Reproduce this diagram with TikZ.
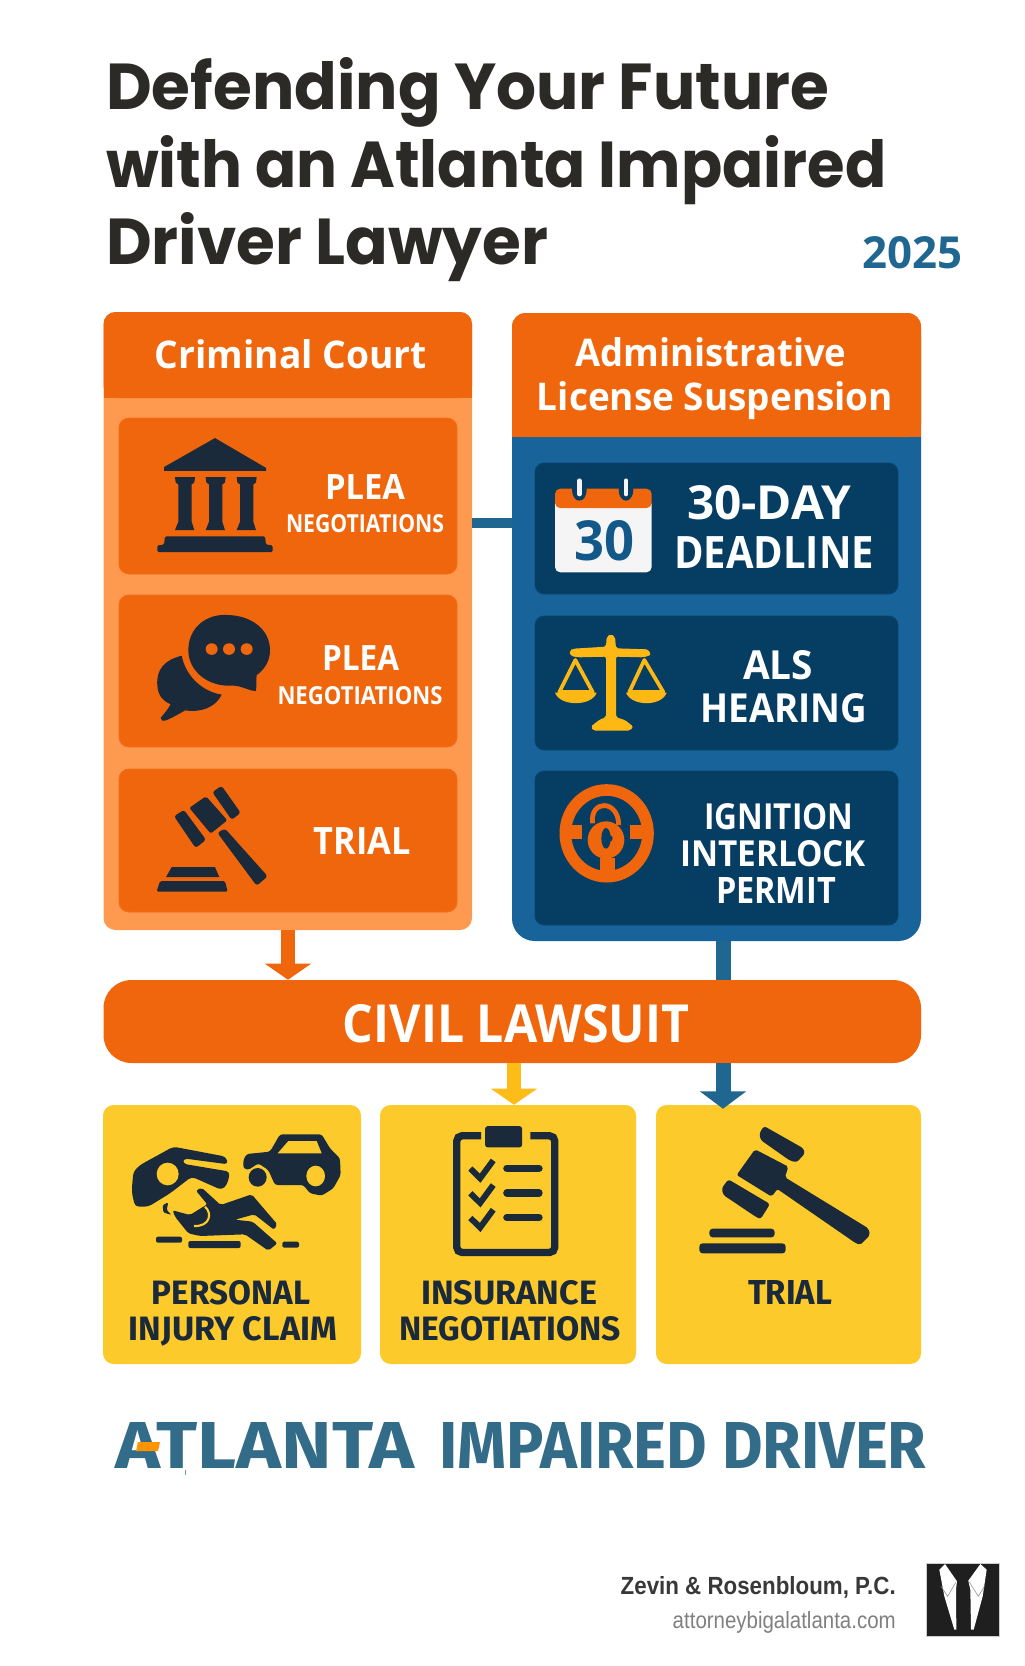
\documentclass[tikz,border=0pt]{standalone}
\usepackage{fontspec}
\usepackage{graphicx}
\setmainfont{Open Sans}
\newfontfamily\titlef{Poppins}
\newfontfamily\firaf{Fira Sans}
\newfontfamily\footf{Liberation Sans}
\usetikzlibrary{fit,arrows.meta}
\definecolor{ora}{HTML}{F0660C}
\definecolor{lora}{HTML}{FE9A50}
\definecolor{blu}{HTML}{17639A}
\definecolor{dblu}{HTML}{063D63}
\definecolor{ico}{HTML}{1B2A3A}
\definecolor{yel}{HTML}{FDCA2C}
\definecolor{gold}{HTML}{FDB813}
\definecolor{conb}{HTML}{1F6690}
\definecolor{ttl}{HTML}{2B2A26}
\definecolor{brand}{HTML}{336C88}
\newcommand{\tx}[3]{\resizebox{\dimexpr#1pt*3/4\relax}{\dimexpr#2pt*3/4\relax}{#3}}
\newcommand{\boxn}[6]{\node[fit={(#2,#3)(#4,#5)},inner sep=0pt,#6] (#1) {};}
\tikzset{
  lbl/.style={anchor=base,inner sep=0pt,text=white,font=\bfseries\fontsize{20}{20}\selectfont},
  ttlb/.style={anchor=base west,inner sep=0pt,text=ttl,font=\titlef\bfseries\fontsize{40}{40}\selectfont},
  item/.style={fill=ora,draw=ora!85!lora,line width=.7pt,rounded corners=7.5pt},
  ditem/.style={fill=dblu,draw=dblu!80!blu,line width=.7pt,rounded corners=7pt},
  ybox/.style={fill=yel,rounded corners=8pt},
  ylbl/.style={anchor=base,inner sep=0pt,text=ico,font=\firaf\bfseries\fontsize{20}{20}\selectfont},
  brandt/.style={anchor=base west,inner sep=0pt,text=brand,font=\firaf\bfseries\fontsize{20}{20}\selectfont},
  flow/.style={line width=#1*.75pt},
}
\begin{document}
\begin{tikzpicture}[x=.75pt,y=-.75pt]
\useasboundingbox[fill=white] (0,0) rectangle (1024,1666);
% title
\node[ttlb] (t1) at (106,110) {\tx{723}{52}{Defending Your Future}};
\node[ttlb] (t2) at (106,188) {\tx{780}{52}{with an Atlanta Impaired}};
\node[ttlb] (t3) at (106,264) {\tx{442}{52}{Driver Lawyer}};
\node[anchor=base west,inner sep=0pt,text=conb,font=\bfseries\fontsize{20}{20}\selectfont] (yr) at (862,268) {\tx{100}{32}{2025}};

% panels
\boxn{crim}{103.5}{312}{472}{930}{fill=lora,rounded corners=9pt}
\fill[ora,rounded corners=9pt] (103.5,398) -- (103.5,312) -- (472,312) -- (472,398) -- cycle;
\boxn{admin}{512}{313}{921}{941}{fill=blu,rounded corners=17pt}
\fill[ora,rounded corners=10pt] (512,437) -- (512,313) -- (921,313) -- (921,437) -- cycle;
\fill[ora] (512,424) rectangle (921,437);
\fill[ora] (103.5,388) rectangle (472,398);
\node[lbl] (ch) at (291,368) {\tx{272}{29}{Criminal Court}};
\node[lbl] (ah1) at (711,366) {\tx{271}{29}{Administrative}};
\node[lbl] (ah2) at (715,410.5) {\tx{356}{29}{License Suspension}};

% left items
\boxn{c1}{119}{418}{457}{574}{item}
\boxn{c2}{119}{595}{457}{747}{item}
\boxn{c3}{119}{769}{457}{912}{item}
\node[lbl] (c1a) at (365,499) {\tx{80}{25}{PLEA}};
\node[lbl] (c1b) at (365,532) {\tx{158}{18}{NEGOTIATIONS}};
\node[lbl] (c2a) at (360.5,670) {\tx{77}{25}{PLEA}};
\node[lbl] (c2b) at (360,704) {\tx{165}{18}{NEGOTIATIONS}};
\node[lbl] (c3a) at (362,854) {\tx{97}{27}{TRIAL}};

% right items
\boxn{a1}{535}{463}{898}{594}{ditem}
\boxn{a2}{535}{616}{898}{750}{ditem}
\boxn{a3}{535}{771}{898}{925}{ditem}
\node[lbl] (a1a) at (769,519) {\tx{164}{34}{30-DAY}};
\node[lbl] (a1b) at (774,568) {\tx{200}{32}{DEADLINE}};
\node[lbl] (a2a) at (778,679) {\tx{70}{29}{ALS}};
\node[lbl] (a2b) at (784,722) {\tx{167}{29}{HEARING}};
\node[lbl] (a3a) at (779,829) {\tx{149}{26}{IGNITION}};
\node[lbl] (a3b) at (773,866) {\tx{186}{26}{INTERLOCK}};
\node[lbl] (a3c) at (776,903) {\tx{120}{26}{PERMIT}};

% courthouse icon
\begin{scope}[shift={(80,300)},xscale=1/3,yscale=1/2.412]
\fill[ico] (405,333) -- (558,405) -- (558,412) -- (252,412) -- (252,403) -- cycle;
\foreach \c in {315,407,500}{
 \fill[ico] (\c-30,427) -- (\c+30,427) -- (\c+28,440) -- (\c+20,445) -- (\c+20,535) -- (\c+28,555) -- (\c-30,555) -- (\c-20,535) -- (\c-20,445) -- (\c-28,440) -- cycle;}
\fill[ico,rounded corners=1pt] (255,570) -- (555,570) -- (558,590) -- (578,592) -- (578,608) -- (232,608) -- (232,592) -- (252,590) -- cycle;
\end{scope}
% chat icon
\begin{scope}[shift={(80,300)},xscale=1/3,yscale=1/2.412]
\fill[ico] (305,858) .. controls (255,868) and (228,890) .. (232,930) .. controls (234,955) and (250,968) .. (272,975) .. controls (262,990) and (250,1000) .. (242,1008) .. controls (245,1020) and (255,1018) .. (315,990) .. controls (360,995) and (405,985) .. (425,952) .. controls (370,945) and (318,910) .. (305,858) -- cycle;
\fill[ico] (447,760) .. controls (380,755) and (325,790) .. (325,845) .. controls (325,895) and (385,935) .. (460,930) .. controls (490,932) and (515,945) .. (528,943) .. controls (530,930) and (528,915) .. (530,905) .. controls (555,890) and (570,870) .. (570,845) .. controls (570,795) and (515,762) .. (447,760) -- cycle;
\foreach \c in {395,447,500}{\fill[ora] (\c,842) ellipse (18 and 14);}
\end{scope}
% small gavel
\begin{scope}[shift={(80,300)},xscale=1/3,yscale=1/2.412]
\fill[ico,rounded corners=1.5pt] (328,1225) -- (378,1197) -- (442,1255) -- (392,1287) -- cycle;
\fill[ico,rounded corners=2pt] (282,1245) -- (312,1230) -- (378,1302) -- (347,1322) -- cycle;
\fill[ico,rounded corners=2pt] (397,1187) -- (425,1172) -- (482,1237) -- (455,1254) -- cycle;
\fill[ico,rounded corners=2pt] (412,1285) -- (435,1275) -- (563,1390) -- (530,1413) -- cycle;
\fill[ico] (275,1368) -- (405,1368) -- (418,1392) -- (258,1392) -- cycle;
\fill[ico,rounded corners=1pt] (240,1402) -- (435,1402) -- (443,1427) -- (230,1427) -- cycle;
\end{scope}
% calendar
\begin{scope}[shift={(500,300)},xscale=1/3,yscale=1/2.412]
\fill[white!92!gray,rounded corners=4pt] (165,480) rectangle (455,657);
\fill[ora,rounded corners=4pt] (165,502) -- (165,455) -- (455,455) -- (455,502) -- cycle;
\foreach \c in {238,378}{
 \fill[dblu] (\c,458) ellipse (22 and 26);
 \draw[white!92!gray,line width=3.5pt,line cap=round] (\c,436) -- (\c,468);}
\node[inner sep=0pt,anchor=base,text=blu!70!dblu,font=\bfseries\fontsize{20}{20}\selectfont] (cal) at (313,628) {\tx{60}{40}{30}};
\end{scope}
% scales
\begin{scope}[shift={(550,630)},scale=1/3]
\fill[gold,rounded corners=1.5pt] (168,50) -- (170,20) -- (183,12) -- (195,20) -- (198,55) -- (295,58) -- (303,75) -- (280,82) -- (198,80) -- (198,262) -- (225,270) -- (250,290) -- (240,302) -- (130,302) -- (122,290) -- (150,268) -- (168,262) -- (168,80) -- (85,82) -- (62,78) -- (58,62) -- (70,56) -- cycle;
\draw[gold,line width=2.8pt,line join=round] (76,90) -- (28,186) -- (128,186) -- cycle;
\draw[gold,line width=2.8pt,line join=round] (283,90) -- (238,186) -- (340,186) -- cycle;
\fill[gold] (15,188) .. controls (30,230) and (125,230) .. (140,188) -- cycle;
\fill[gold] (228,188) .. controls (245,230) and (335,230) .. (350,188) -- cycle;
\end{scope}
% ignition interlock icon
\begin{scope}[shift={(550,780)},scale=1/3]
\draw[ora,line width=8.75pt] (170,160) ellipse (124 and 130);
\fill[ora] (50,135) rectangle (95,177);
\fill[ora] (240,135) rectangle (290,177);
\fill[ora] (150,235) rectangle (195,285);
\fill[ora] (168,180) ellipse (55 and 56);
\fill[dblu] (168,175) ellipse (14 and 31);
\fill[dblu] (178,175) circle (10);
\draw[ora,line width=3.6pt] (128,130) .. controls (118,58) and (206,58) .. (206,135);
\end{scope}

% connectors
\coordinate (hc) at (0,523);
\coordinate (lc) at (288,0);
\coordinate (mc) at (514,0);
\coordinate (rc) at (723,0);
\draw[conb,flow=10] (crim.east |- hc) -- (admin.west |- hc);

% bottom boxes
\boxn{b1}{103}{1105}{361}{1364}{ybox}
\boxn{b2}{380}{1105}{636}{1364}{ybox}
\boxn{b3}{656}{1105}{921}{1364}{ybox}
\boxn{civil}{103.5}{980}{921}{1063}{fill=ora,rounded corners=21pt}
\draw[ora,flow=14,-{Triangle[length=12pt,width=34pt]}] (lc |- crim.south) -- (lc |- civil.north);
\draw[gold!80!yel,flow=14,-{Triangle[length=12pt,width=34pt]}] (mc |- civil.south) -- (mc |- b2.north);
\draw[conb,flow=15] (rc |- admin.south) -- (rc |- civil.north);
\draw[conb,flow=15,shorten >=-3pt,-{Triangle[length=13pt,width=34pt]}] (rc |- civil.south) -- (rc |- b3.north);
\node[lbl] (cl) at (516,1042) {\tx{346}{38}{CIVIL LAWSUIT}};

% crash icon
\begin{scope}[shift={(120,1125)},scale=1/3]
\fill[ico,rounded corners=2pt] (370,105) -- (380,87) -- (450,80) -- (480,28) -- (605,28) -- (630,70) -- (660,100) -- (662,150) -- (640,190) -- (605,212) -- (570,205) -- (550,180) -- (465,180) -- (445,135) -- (415,115) -- (385,135) -- (370,130) -- cycle;
\fill[yel] (473,85) -- (505,48) -- (590,48) -- (605,85) -- cycle;
\fill[yel] (587,153) ellipse (28 and 31);
\fill[ico] (413,157) ellipse (27 and 28);
\fill[ico,rounded corners=3pt] (35,200) -- (40,140) -- (60,120) -- (160,65) -- (318,95) -- (325,118) -- (190,100) -- (188,116) -- (330,140) -- (322,178) -- (305,195) -- (215,155) -- (150,205) -- (85,245) -- (45,245) -- cycle;
\fill[yel] (143,147) ellipse (33 and 34);
\fill[ico,rounded corners=1.5pt] (228,197) -- (245,188) -- (302,240) -- (395,208) -- (472,298) -- (462,314) -- (403,268) -- (345,284) -- (398,290) -- (472,355) -- (445,377) -- (375,328) -- (240,333) -- (205,325) -- (165,275) -- (158,256) -- (210,270) -- (250,245) -- (262,238) -- cycle;
\fill[ico,rounded corners=1pt] (130,262) -- (128,240) -- (145,232) -- (140,255) -- (155,270) -- cycle;
\draw[yel,line width=1.6pt] (255,245) .. controls (278,265) and (270,305) .. (222,303);
\fill[ico,rounded corners=1.5pt] (108,335) rectangle (186,353);
\fill[ico,rounded corners=1.5pt] (205,348) rectangle (362,369);
\fill[ico,rounded corners=1.5pt] (487,350) rectangle (537,368);
\end{scope}
% clipboard icon
\begin{scope}[shift={(90,1096)},xscale=1/1.835,yscale=1/2.92]
\draw[ico,line width=5.5pt,rounded corners=4pt] (718,116) -- (673,116) -- (673,457) -- (853,457) -- (853,116) -- (808,116);
\fill[ico,rounded corners=2pt] (725,88) rectangle (793,150);
\foreach \y in {0,72,144}{
 \draw[ico,line width=4.5pt] (698,\y+212) -- (716,\y+240) -- (740,\y+188);
 \draw[ico,line width=5.5pt,line cap=round] (765,\y+211) -- (824,\y+211);}
\end{scope}
% big gavel
\begin{scope}[shift={(690,1120)},scale=1/3]
\fill[ico,rounded corners=2pt] (222,18) -- (340,85) -- (345,100) -- (320,127) -- (300,122) -- (212,60) -- (208,40) -- cycle;
\fill[ico,rounded corners=1.5pt] (195,88) -- (295,140) -- (285,172) -- (535,325) -- (540,345) -- (510,375) -- (495,368) -- (262,207) -- (245,230) -- (140,165) -- cycle;
\fill[ico,rounded corners=2pt] (115,178) -- (240,252) -- (212,297) -- (200,292) -- (100,225) -- (95,205) -- cycle;
\fill[ico,rounded corners=2.5pt] (58,326) rectangle (254,352);
\fill[ico,rounded corners=2.5pt] (28,370) rectangle (287,400);
\end{scope}

\node[ylbl] (y1a) at (231,1304) {\tx{158}{24}{PERSONAL}};
\node[ylbl] (y1b) at (233,1340) {\tx{208}{24}{INJURY CLAIM}};
\node[ylbl] (y2a) at (509,1304) {\tx{176}{24}{INSURANCE}};
\node[ylbl] (y2b) at (510,1340) {\tx{222}{24}{NEGOTIATIONS}};
\node[ylbl] (y3a) at (790,1304) {\tx{84}{24}{TRIAL}};

% brand
\node[brandt] (br1) at (115,1468) {\tx{299}{46}{ATLANTA}};
\node[brandt] (br2) at (439,1468) {\tx{487}{46}{IMPAIRED DRIVER}};
\fill[orange!85!yellow] (138,1442) -- (160,1442) -- (158,1451) -- (136,1451) -- cycle;
\draw[brand!70!white,line width=.5pt] (185.5,1470) -- (185.5,1475);

% footer
\node[anchor=base east,inner sep=0pt,text=black!78,font=\footf\fontsize{16}{16}\selectfont\bfseries] (fa) at (896,1594) {\tx{275}{18}{Zevin \& Rosenbloum, P.C.}};
\node[anchor=base east,inner sep=0pt,text=black!50,font=\footf\fontsize{16}{16}\selectfont] (fb) at (896,1628) {\tx{223}{17}{attorneybigalatlanta.com}};
\begin{scope}[shift={(921,1558)},scale=1/3]
\fill[black!88,draw=black!20,line width=.6pt] (15,15) rectangle (236,236);
\fill[white] (55,35) -- (72,18) -- (108,70) -- (105,95) -- (106,215) -- (100,215) -- (70,115) -- cycle;
\fill[white] (197,35) -- (178,18) -- (142,68) -- (148,95) -- (150,215) -- (158,215) -- (185,115) -- cycle;
\draw[black!45,line width=.4pt] (60,85) -- (80,115) -- (105,72);
\draw[black!45,line width=.4pt] (190,85) -- (172,115) -- (145,72);
\end{scope}
\end{tikzpicture}
\end{document}
